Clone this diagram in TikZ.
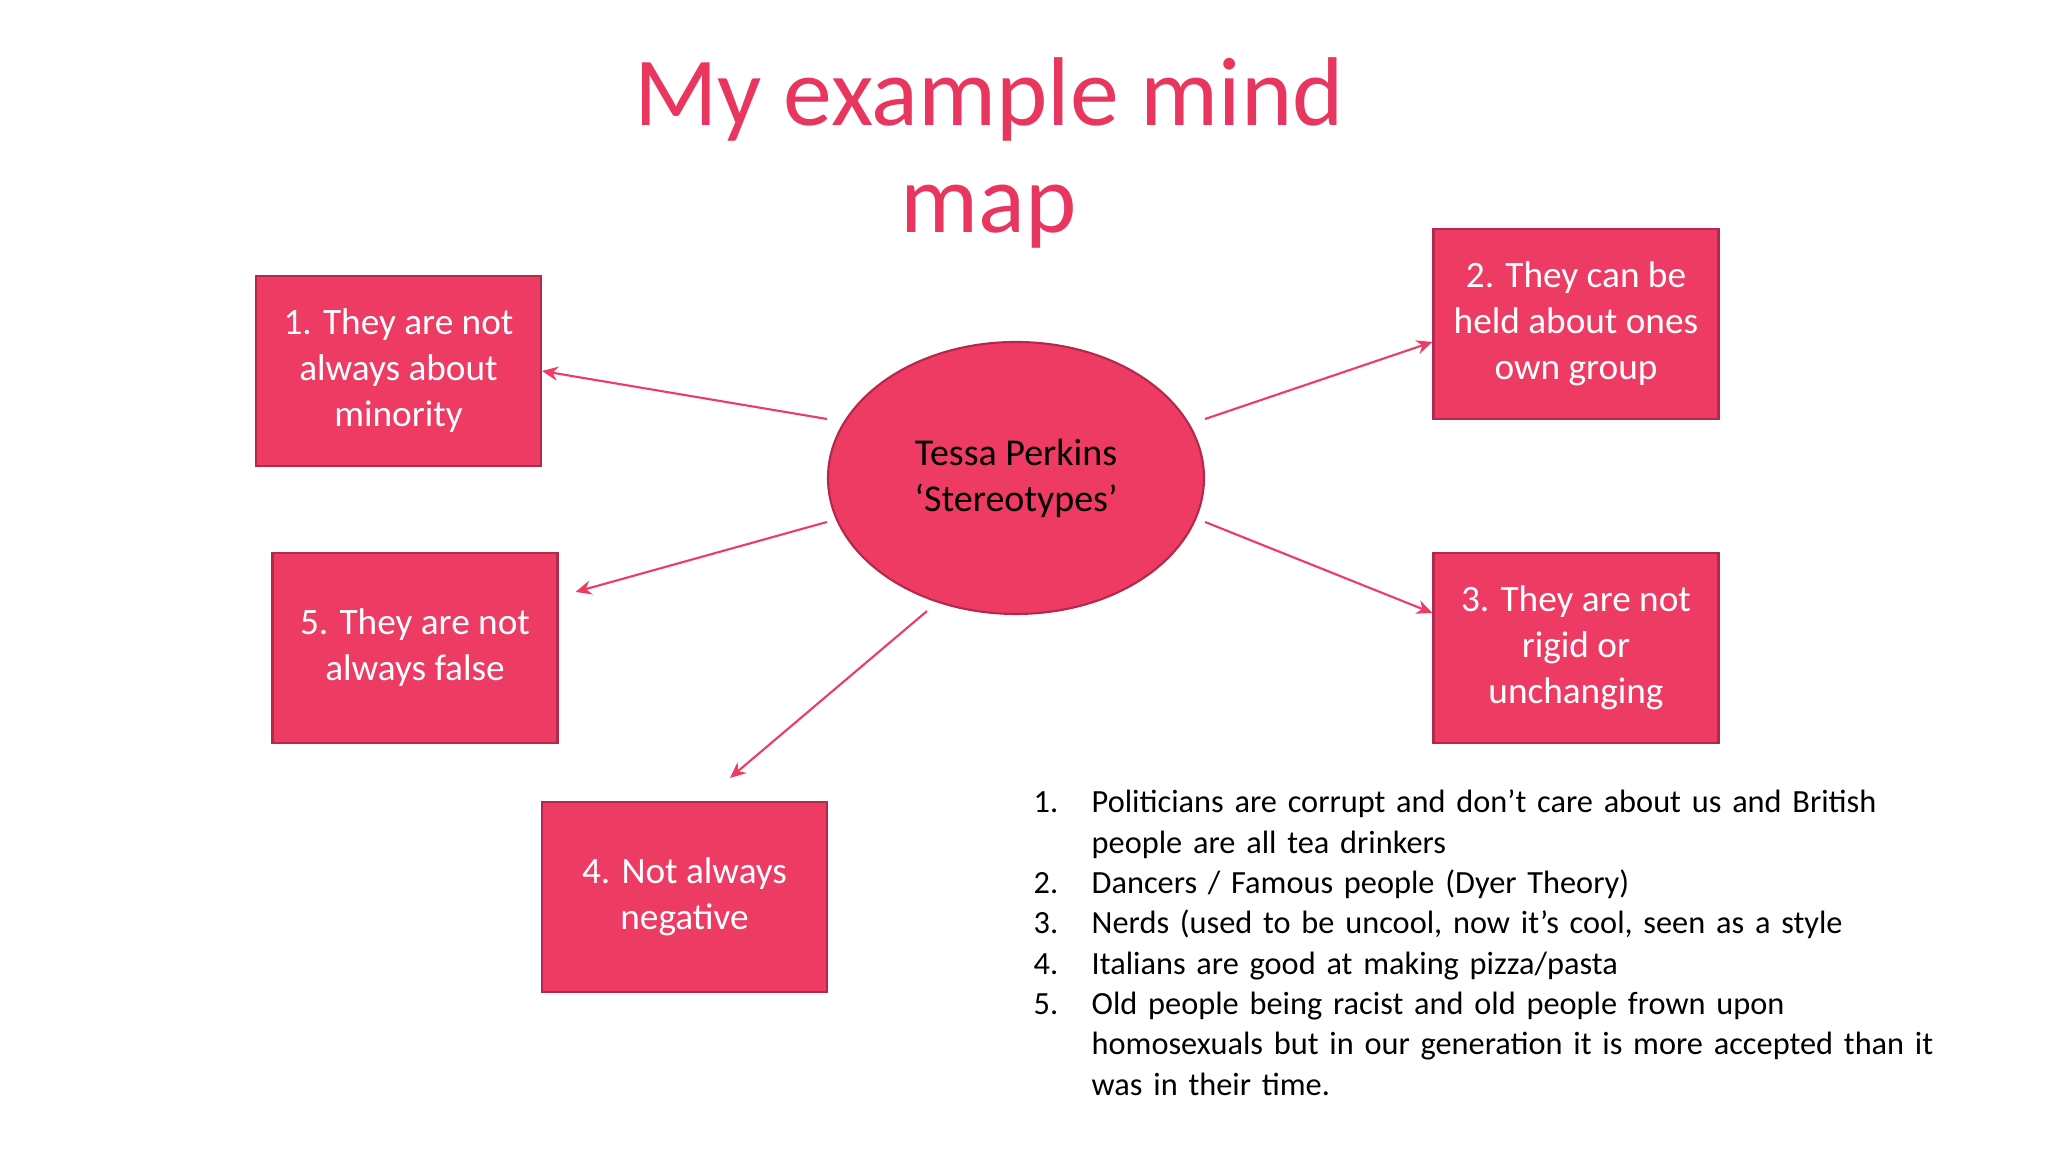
\documentclass[tikz,border=0pt]{standalone}
\usepackage{fontspec}
\setmainfont{Carlito}
\usetikzlibrary{arrows.meta,shapes.geometric,positioning}

\definecolor{rosefill}{HTML}{EE3B63}
\definecolor{roseedge}{HTML}{B3284B}
\definecolor{rosetitle}{HTML}{E8365E}

\newcommand\listentry[2]{\noindent\hangindent=0.58cm\hangafter=1%
  \makebox[0.58cm][l]{#1}#2\par}

\tikzset{
  pointbox/.style={rectangle, draw=roseedge, fill=rosefill, line width=0.6pt,
    minimum width=2.85cm, minimum height=1.90cm, text=white, align=center,
    font=\fontsize{10.6}{13.1}\selectfont},
  link/.style={draw=rosefill, line width=0.6pt,
    -{Stealth[length=4.5pt,width=4pt]}}
}

\begin{document}
\begin{tikzpicture}
  % Layout positions
  \def\xleft{3.985}  % box 1
  \def\xfive{4.15}   % box 5
  \def\xright{15.76} % boxes 2 and 3
  \def\yupper{7.81}
  \def\ylower{5.04}

  % Page
  \fill[white] (0,0) rectangle (20.48,11.52);
  \useasboundingbox (0,0) rectangle (20.48,11.52);

  % Title
  \node[font=\fontsize{27.8}{30.4}\selectfont, text=rosetitle, align=center]
    (title) at (9.89,9.99) {My example mind\\map};

  % Central topic
  \node[ellipse, draw=roseedge, fill=rosefill, line width=0.6pt,
    minimum width=3.76cm, minimum height=2.72cm, inner sep=0pt,
    align=center, font=\fontsize{10.8}{13.1}\selectfont]
    (hub) at (10.16,6.74) {Tessa Perkins\\‘Stereotypes’};

  % Points
  \node[pointbox] (b1) at (\xleft,\yupper) {1. They are not\\always about\\minority};
  \node[pointbox] (b2) at (\xright,8.28) {2. They can be\\held about ones\\own group};
  \node[pointbox] (b3) at (\xright,\ylower) {3. They are not\\rigid or\\unchanging};
  \node[pointbox] (b4) at (6.845,2.55) {4. Not always\\negative};
  \node[pointbox] (b5) at (\xfive,\ylower) {5. They are not\\always false};

  % Arrow ends
  \coordinate (s1) at ([yshift=0.59cm]hub.west);
  \coordinate (s2) at ([yshift=0.59cm]hub.east);
  \coordinate (s3) at ([yshift=-0.44cm]hub.east);
  \coordinate (s5) at ([yshift=-0.44cm]hub.west);
  \coordinate (s4) at ([shift={(-0.89,0.04)}]hub.south);
  \coordinate (e2) at ([yshift=-0.18cm]b2.west);
  \coordinate (e3) at ([yshift=0.35cm]b3.west);
  \coordinate (e5) at ([shift={(0.17,-0.40)}]b5.north east);
  \coordinate (e4) at ([shift={(0.455,0.23)}]b4.north);

  % Arrows
  \draw[link] (s1) -- (b1.east);
  \draw[link] (s2) -- (e2);
  \draw[link] (s3) -- (e3);
  \draw[link] (s5) -- (e5);
  \draw[link] (s4) -- (e4);

  % Examples
  \node[anchor=base west, inner sep=0pt, text width=10.5cm, align=left,
    font=\fontsize{9.2}{11.47}\selectfont] (examples) at (10.33,3.39) {%
    \listentry{1.}{Politicians are corrupt and don’t care about us and British\newline people are all tea drinkers}%
    \listentry{2.}{Dancers / Famous people (Dyer Theory)}%
    \listentry{3.}{Nerds (used to be uncool, now it’s cool, seen as a style}%
    \listentry{4.}{Italians are good at making pizza/pasta}%
    \listentry{5.}{Old people being racist and old people frown upon\newline homosexuals but in our generation it is more accepted than it\newline was in their time.}};
\end{tikzpicture}
\end{document}
